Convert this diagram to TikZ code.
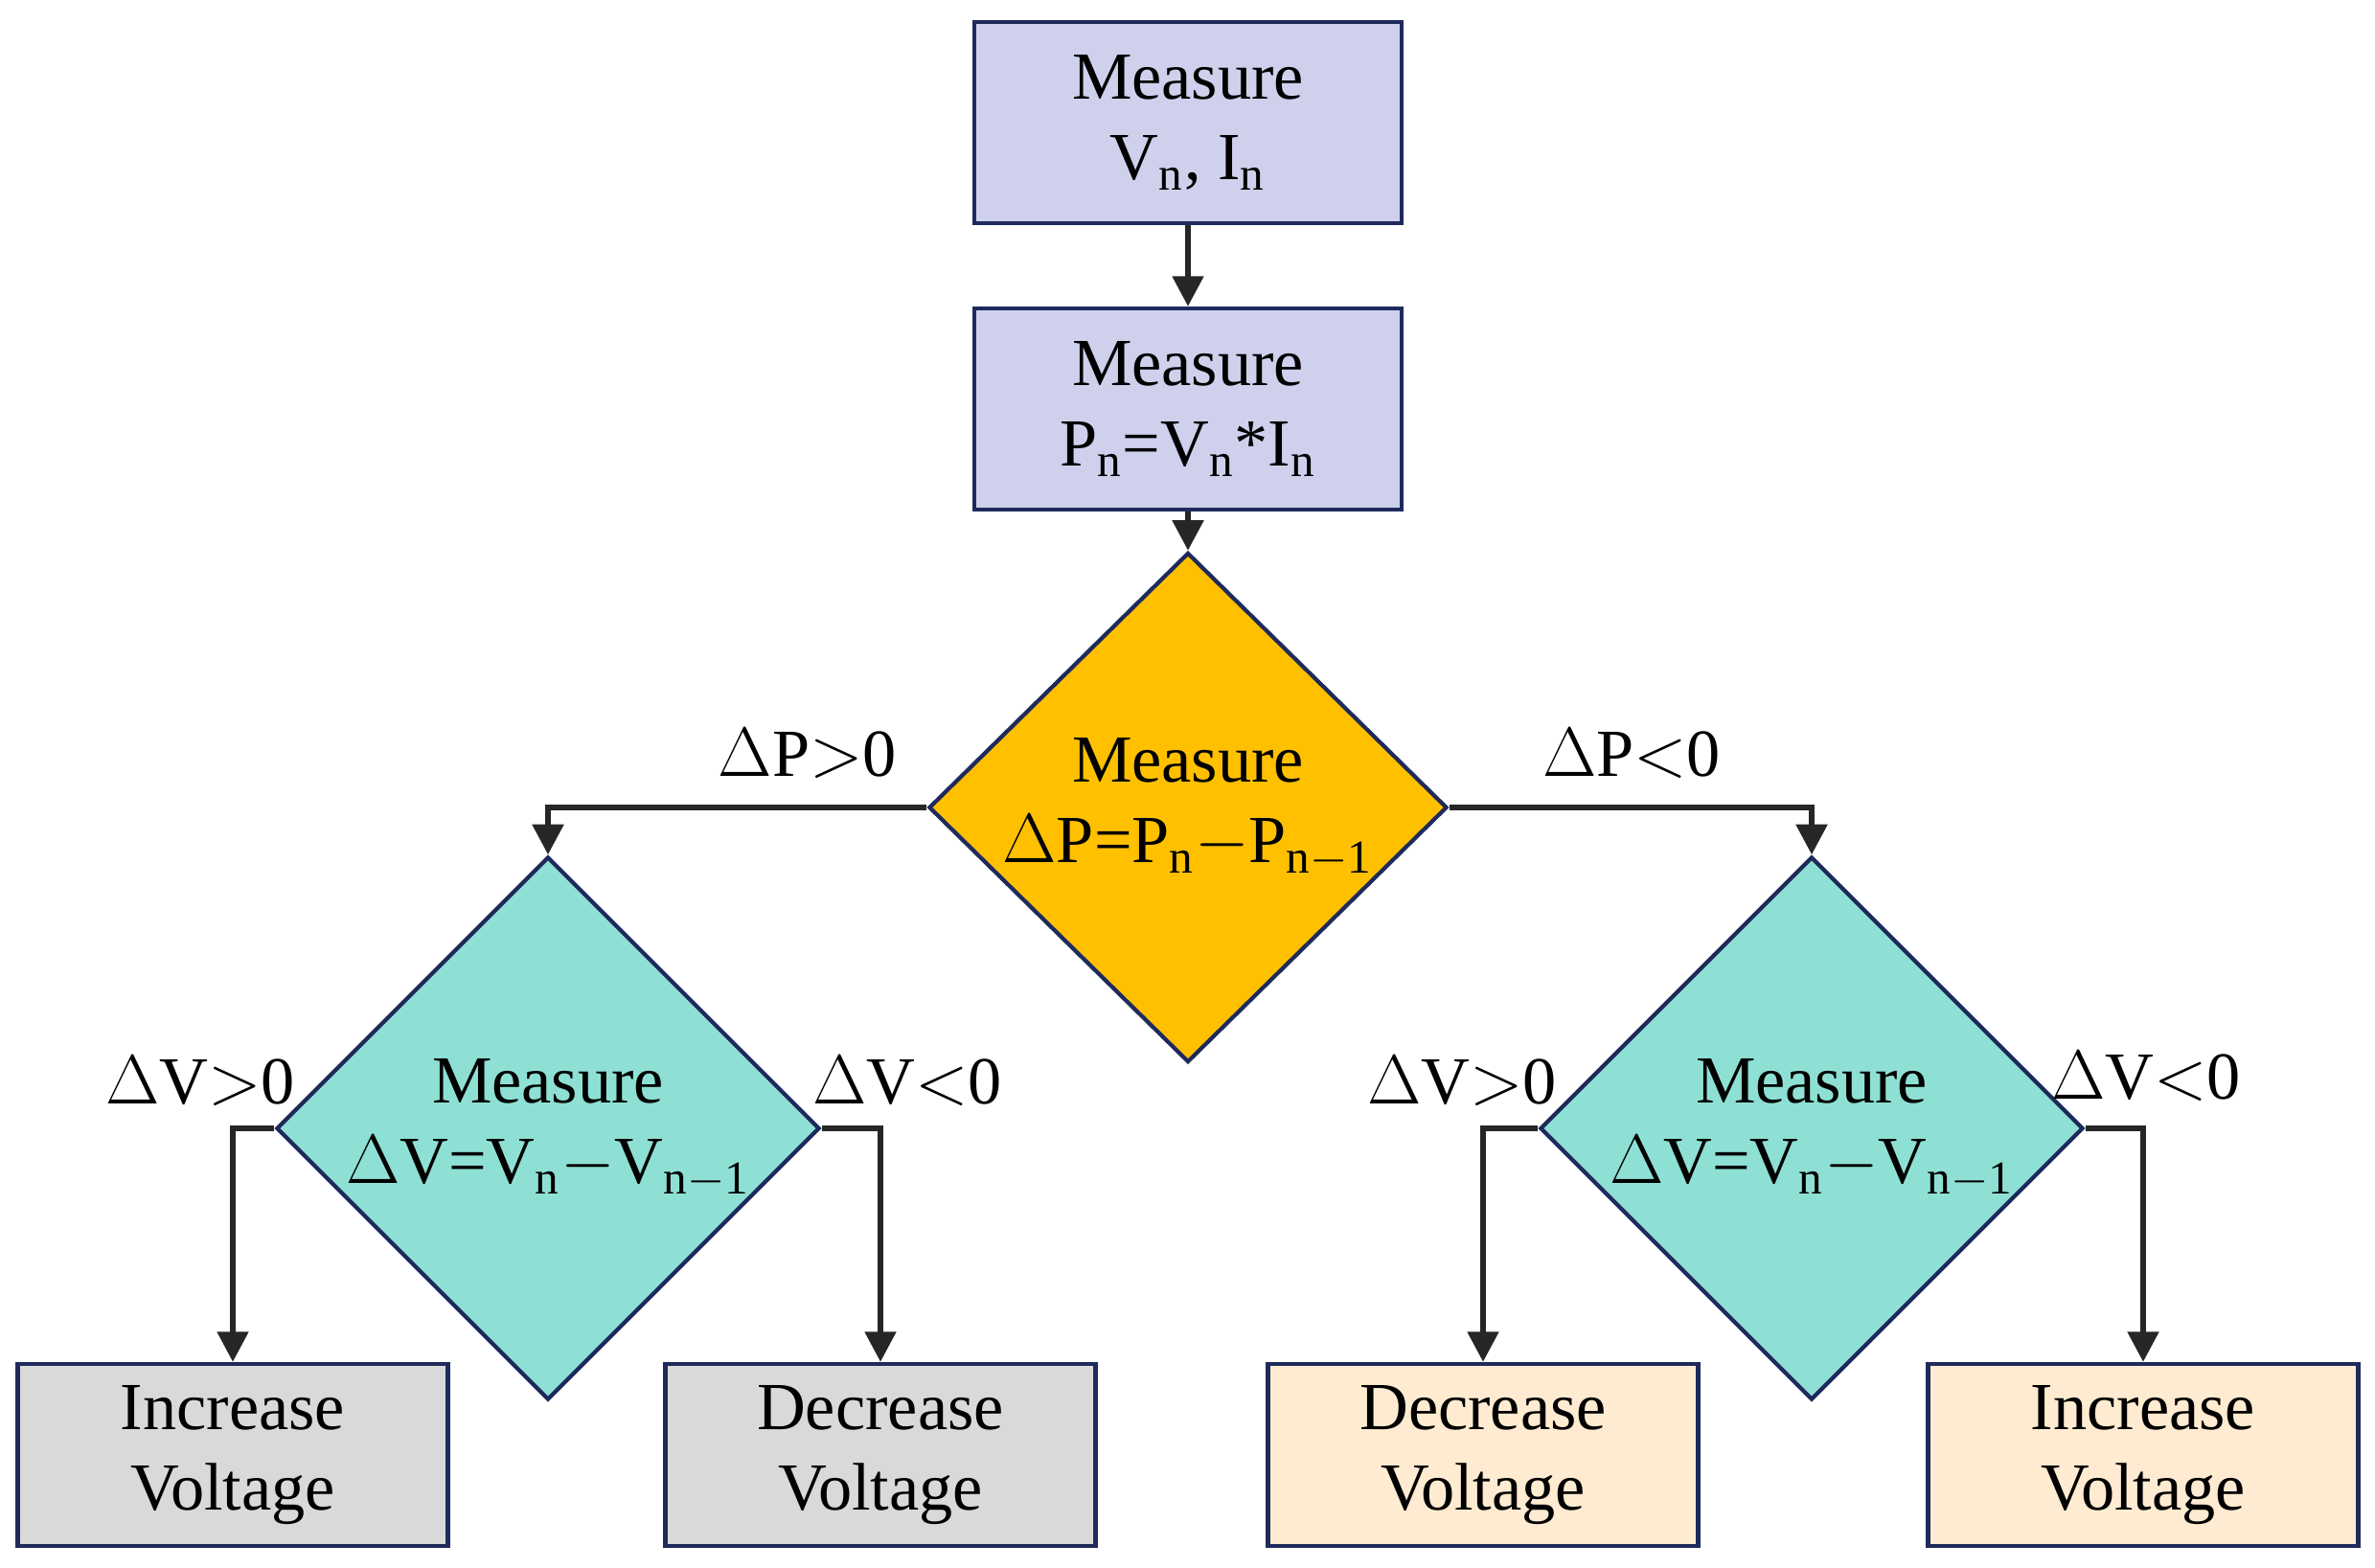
\documentclass[tikz,border=0pt]{standalone}
\usepackage{fontspec}
\setmainfont{Liberation Serif}
\usetikzlibrary{shapes.geometric, arrows.meta, positioning}
\definecolor{boxBlue}{HTML}{CFD0EC}
\definecolor{lineNavy}{HTML}{1F2A5C}
\definecolor{decOrange}{HTML}{FFC000}
\definecolor{decTeal}{HTML}{8EE0D4}
\definecolor{outGray}{HTML}{D9D9D9}
\definecolor{outPeach}{HTML}{FFEBD1}
\tikzset{
  task/.style={draw=lineNavy, line width=1.2pt, minimum width=4.46cm, minimum height=2.1cm, align=center, font=\fontsize{20}{24}\selectfont},
  result/.style={task, minimum width=4.49cm, minimum height=1.9cm},
  decide/.style={diamond, draw=lineNavy, line width=1.2pt, inner sep=0pt, align=center, font=\fontsize{20}{24}\selectfont},
  flow/.style={-{Triangle[length=9pt,width=9pt]}, line width=1.8pt, draw=black!85},
  cond/.style={font=\fontsize{20}{24}\selectfont}
}
\begin{document}
\begin{tikzpicture}
\useasboundingbox (0,0) rectangle (24.79,-16.37);

% === Measurement steps ===
\node[task, fill=boxBlue] (measVI) at (12.40,-1.28) {Measure\\V\textsubscript{n}, I\textsubscript{n}};
\node[task, fill=boxBlue] (measP) at (12.40,-4.27) {Measure\\P\textsubscript{n}=V\textsubscript{n}*I\textsubscript{n}};

% === Decisions ===
\node[decide, fill=decOrange, minimum width=5.41cm, minimum height=4.43cm] (dP) at (12.40,-8.43) {Measure\\$\Delta$P=P\textsubscript{n}$-$P\textsubscript{n$-$1}};
\node[decide, fill=decTeal, minimum width=4.89cm, minimum height=4.44cm] (dVL) at (5.72,-11.78) {Measure\\$\Delta$V=V\textsubscript{n}$-$V\textsubscript{n$-$1}};
\node[decide, fill=decTeal, minimum width=5.03cm, minimum height=4.44cm] (dVR) at (18.91,-11.78) {Measure\\$\Delta$V=V\textsubscript{n}$-$V\textsubscript{n$-$1}};

% === Outcomes ===
\node[result, fill=outGray] (incL) at (2.43,-15.19) {Increase\\Voltage};
\node[result, fill=outGray] (decL) at (9.19,-15.19) {Decrease\\Voltage};
\node[result, fill=outPeach] (decR) at (15.48,-15.19) {Decrease\\Voltage};
\node[result, fill=outPeach] (incR) at (22.37,-15.19) {Increase\\Voltage};

% === Connectors ===
\draw[flow] (measVI) -- (measP);
\draw[flow] (measP) -- (dP);
\draw[flow] (dP.west) -| (dVL.north);
\draw[flow] (dP.east) -| (dVR.north);
\draw[flow] (dVL.west) -| (incL.north);
\draw[flow] (dVL.east) -| (decL.north);
\draw[flow] (dVR.west) -| (decR.north);
\draw[flow] (dVR.east) -| (incR.north);

% === Branch labels ===
\node[cond] (lPpos) at (8.43,-7.87) {$\Delta$P$>$0};
\node[cond] (lPneg) at (17.03,-7.87) {$\Delta$P$<$0};
\node[cond] (lVposL) at (2.09,-11.29) {$\Delta$V$>$0};
\node[cond] (lVnegL) at (9.47,-11.29) {$\Delta$V$<$0};
\node[cond] (lVposR) at (15.26,-11.29) {$\Delta$V$>$0};
\node[cond] (lVnegR) at (22.40,-11.24) {$\Delta$V$<$0};
\end{tikzpicture}
\end{document}
